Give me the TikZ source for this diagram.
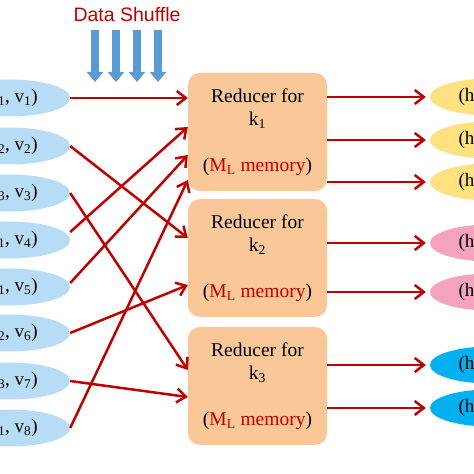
\documentclass[tikz,border=0pt]{standalone}
\usepackage{fontspec}
\setmainfont{Liberation Serif}
\newfontfamily\arialfont{Liberation Sans}
\usetikzlibrary{shapes.geometric, arrows.meta}
\definecolor{darkred}{RGB}{192,0,0}
\definecolor{peach}{RGB}{250,199,152}
\definecolor{skyblue}{RGB}{183,220,245}
\definecolor{gold}{RGB}{255,225,128}
\definecolor{rose}{RGB}{245,162,190}
\definecolor{brightblue}{RGB}{0,176,240}
\definecolor{steel}{RGB}{91,155,213}
\tikzstyle{arrow} = [line width=2.5pt,darkred,-{Straight Barb[length=9pt,width=14pt]}]
\tikzstyle{pair} = [ellipse,minimum width=120pt,minimum height=37pt,inner sep=0pt,font=\fontsize{19}{23}\selectfont]
\tikzstyle{reducer} = [rectangle,rounded corners=12pt,fill=peach,minimum width=139pt,minimum height=118pt,align=center,font=\fontsize{19.5}{23}\selectfont]
\tikzstyle{shuffle} = [line width=8pt,steel,-{Triangle[length=10pt,width=16pt]}]

\begin{document}
\begin{tikzpicture}[x=1pt,y=1pt]
  \useasboundingbox (0,0) rectangle (474,474);

  \node[text=darkred,font=\arialfont\fontsize{19.5}{22}\selectfont] (title) at (127,459) {Data Shuffle};
  \draw[shuffle] (95,444) -- (95,392);
  \draw[shuffle] (116,444) -- (116,392);
  \draw[shuffle] (137,444) -- (137,392);
  \draw[shuffle] (158,444) -- (158,392);

  \node[pair,fill=skyblue] (p1) at (10,376) {(k\textsubscript{1}, v\textsubscript{1})};
  \node[pair,fill=skyblue] (p2) at (10,328) {(k\textsubscript{2}, v\textsubscript{2})};
  \node[pair,fill=skyblue] (p3) at (10,281) {(k\textsubscript{3}, v\textsubscript{3})};
  \node[pair,fill=skyblue] (p4) at (10,234) {(k\textsubscript{1}, v\textsubscript{4})};
  \node[pair,fill=skyblue] (p5) at (10,187) {(k\textsubscript{1}, v\textsubscript{5})};
  \node[pair,fill=skyblue] (p6) at (10,141) {(k\textsubscript{2}, v\textsubscript{6})};
  \node[pair,fill=skyblue] (p7) at (10,93) {(k\textsubscript{3}, v\textsubscript{7})};
  \node[pair,fill=skyblue] (p8) at (10,46) {(k\textsubscript{1}, v\textsubscript{8})};

  \node[reducer] (r1) at (257.5,342) {Reducer for\\k\textsubscript{1}\\[23pt](\textcolor{darkred}{M\textsubscript{L} memory})};
  \node[reducer] (r2) at (257.5,216) {Reducer for\\k\textsubscript{2}\\[23pt](\textcolor{darkred}{M\textsubscript{L} memory})};
  \node[reducer] (r3) at (257.5,88) {Reducer for\\k\textsubscript{3}\\[23pt](\textcolor{darkred}{M\textsubscript{L} memory})};

  \node[pair,fill=gold] (o1) at (490,377) {(h\hspace{47pt}\mbox{}};
  \node[pair,fill=gold] (o2) at (490,334) {(h\hspace{47pt}\mbox{}};
  \node[pair,fill=gold] (o3) at (490,292) {(h\hspace{47pt}\mbox{}};
  \node[pair,fill=rose] (o4) at (490,231) {(h\hspace{47pt}\mbox{}};
  \node[pair,fill=rose] (o5) at (490,182) {(h\hspace{47pt}\mbox{}};
  \node[pair,fill=brightblue] (o6) at (490,109) {(h\hspace{47pt}\mbox{}};
  \node[pair,fill=brightblue] (o7) at (490,66) {(h\hspace{47pt}\mbox{}};

  \draw[arrow] (p1.east) -- (r1.west |- p1);
  \draw[arrow] (p2.east) -- ([yshift=20pt]r2.west);
  \draw[arrow] (p3.east) -- ([yshift=16pt]r3.west);
  \draw[arrow] ([yshift=8pt]p4.east) -- ([yshift=5pt]r1.west);
  \draw[arrow] ([yshift=4pt]p5.east) -- ([yshift=-23pt]r1.west);
  \draw[arrow] (p6.east) -- ([yshift=-27pt]r2.west);
  \draw[arrow] (p7.east) -- ([yshift=-11pt]r3.west);
  \draw[arrow] (p8.east) -- ([yshift=-48pt]r1.west);

  \draw[arrow,shorten >=4pt] (r1.east |- o1) -- (o1);
  \draw[arrow,shorten >=4pt] (r1.east |- o2) -- (o2);
  \draw[arrow,shorten >=4pt] (r1.east |- o3) -- (o3);
  \draw[arrow,shorten >=4pt] (r2.east |- o4) -- (o4);
  \draw[arrow,shorten >=4pt] (r2.east |- o5) -- (o5);
  \draw[arrow,shorten >=4pt] (r3.east |- o6) -- (o6);
  \draw[arrow,shorten >=4pt] (r3.east |- o7) -- (o7);
\end{tikzpicture}
\end{document}
